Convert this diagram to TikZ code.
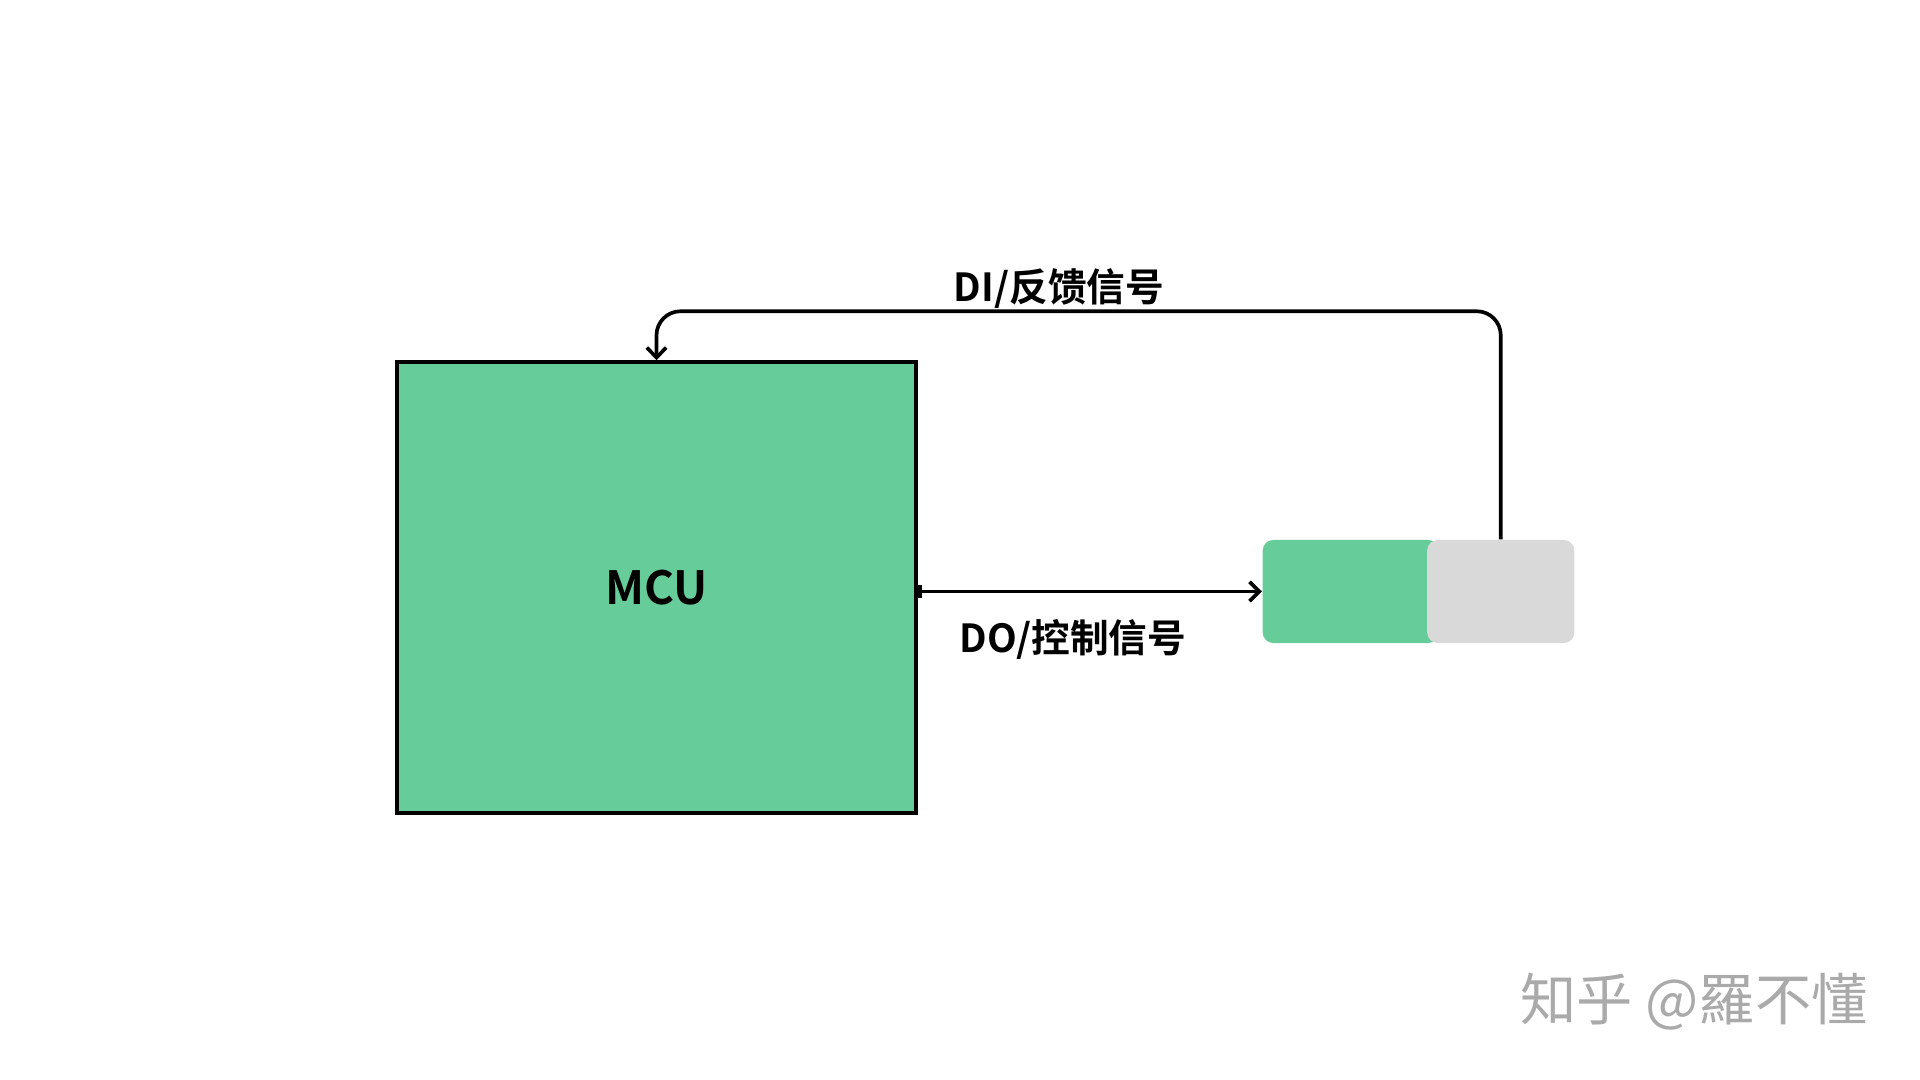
\documentclass[tikz,border=0pt]{standalone}
\usepackage{fontspec}
\usepackage{xcolor}
\usepackage{tikz}
\usetikzlibrary{calc, positioning, arrows.meta}
\setmainfont{Noto Sans CJK SC}
\newfontfamily\cjkbold[BoldFont={* Bold}]{Noto Sans CJK SC}
\definecolor{mcugreen}{RGB}{102,205,154}
\definecolor{switchgray}{RGB}{217,217,217}
\definecolor{markgray}{RGB}{170,170,170}

\begin{document}
\begin{tikzpicture}[
        x=0.01cm, y=-0.01cm,
        mcubox/.style={
            draw=black,
            rectangle,
            fill=mcugreen,
            line width=1pt,
            minimum width=5.19cm,
            minimum height=4.51cm,
            font=\cjkbold\bfseries\fontsize{13}{15}\selectfont
        },
        relaypart/.style={
            rectangle,
            rounded corners=3pt,
            fill=mcugreen,
            minimum width=1.76cm,
            minimum height=1.03cm
        },
        switchpart/.style={
            rectangle,
            rounded corners=3pt,
            fill=switchgray,
            minimum width=1.47cm,
            minimum height=1.03cm
        },
        sig/.style={
            font=\cjkbold\bfseries\fontsize{11}{13}\selectfont
        },
        arrow/.style={
            -{Straight Barb[length=2.8pt, width=5.5pt]},
            line width=1.05pt,
            draw=black
        }
    ]
        \useasboundingbox (0,0) rectangle (1920,1080);

        % MCU
        \node (mcu) [mcubox] at (656.5,587.5) {MCU};

        % Relay / switch
        \node (relay) [relaypart, anchor=west] at (1262,591.5) {};
        \node (switch) [switchpart, anchor=east] at (1575,591.5) {};

        % Signals
        \draw [arrow, {Bar[width=3.5pt]}-{Straight Barb[length=2.8pt, width=5.5pt]}] (mcu.east |- relay.west) -- (relay.west);
        \draw [arrow, rounded corners=0.24cm] (switch.north) -- ++(0,-228) -| (mcu.north);

        \node (di) [sig] at (1059,289) {DI/反馈信号};
        \node (do) [sig] at (1073,639) {DO/控制信号};

        % Watermark
        \node (mark) [font=\fontsize{16}{18}\selectfont, text=markgray] at (1694,1002) {知乎 @羅不懂};
    \end{tikzpicture}
\end{document}
